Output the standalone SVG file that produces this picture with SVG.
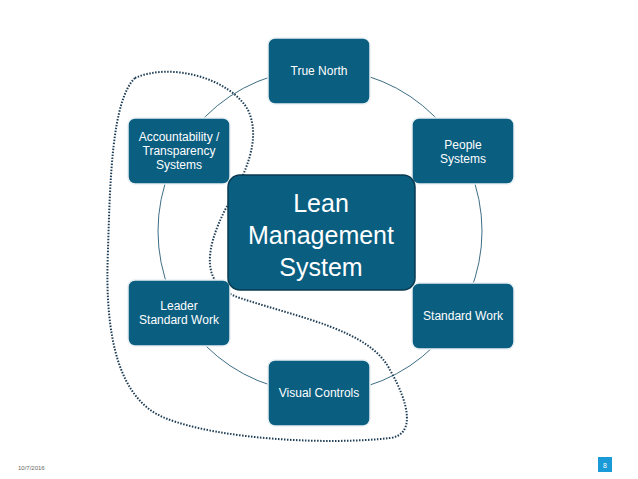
<svg xmlns="http://www.w3.org/2000/svg" width="638" height="479" viewBox="0 0 638 479">
<style>
.n{fill:#0a5e80;stroke:#e8f0f4;stroke-width:1.5}
.t{fill:#fff;font-family:"Liberation Sans",Arial,sans-serif;font-size:12px;text-anchor:middle}
.big{font-size:25px}
</style>
<rect width="638" height="479" fill="#fff"/>
<g id="connectors">
<circle cx="320" cy="231" r="162" fill="none" stroke="#3d6e85" stroke-width="1"/>
<path d="M135,78 C170,62 230,78 248,110 C262,140 245,175 225,210 C205,250 200,285 240,298 C300,318 370,330 390,370 C410,405 415,435 390,438 C330,445 220,440 165,418 C120,400 104,340 108,250 C110,180 112,100 135,78 Z" fill="none" stroke="#1e3d55" stroke-width="2" stroke-dasharray="1.5 1.5"/>
</g>
<g id="trueNorth"><rect class="n" x="268" y="38" width="102" height="66" rx="7"/><text class="t" x="319" y="75">True North</text></g>
<g id="people"><rect class="n" x="412" y="118" width="102" height="66" rx="7"/><text class="t" x="463" y="149">People</text><text class="t" x="463" y="163">Systems</text></g>
<g id="standard"><rect class="n" x="412" y="283" width="102" height="66" rx="7"/><text class="t" x="463" y="320">Standard Work</text></g>
<g id="visual"><rect class="n" x="268" y="360" width="102" height="66" rx="7"/><text class="t" x="319" y="397">Visual Controls</text></g>
<g id="leader"><rect class="n" x="128" y="280" width="102" height="66" rx="7"/><text class="t" x="179" y="310">Leader</text><text class="t" x="179" y="324">Standard Work</text></g>
<g id="account"><rect class="n" x="128" y="118" width="102" height="66" rx="7"/><text class="t" x="179" y="141">Accountability /</text><text class="t" x="179" y="155">Transparency</text><text class="t" x="179" y="169">Systems</text></g>
<g id="center"><rect x="228" y="175" width="187" height="115" rx="12" fill="#0a5e80" stroke="#0a3a50" stroke-width="1.5"/><text class="t big" x="321" y="212">Lean</text><text class="t big" x="321" y="244">Management</text><text class="t big" x="321" y="276">System</text></g>
<text x="18" y="470" font-family="Liberation Sans,sans-serif" font-size="6" fill="#666">10/7/2016</text>
<rect x="598" y="457" width="14" height="15" fill="#1a9ad6"/>
<text x="605" y="467.5" font-family="Liberation Sans,sans-serif" font-size="7" fill="#fff" text-anchor="middle">8</text>
</svg>
